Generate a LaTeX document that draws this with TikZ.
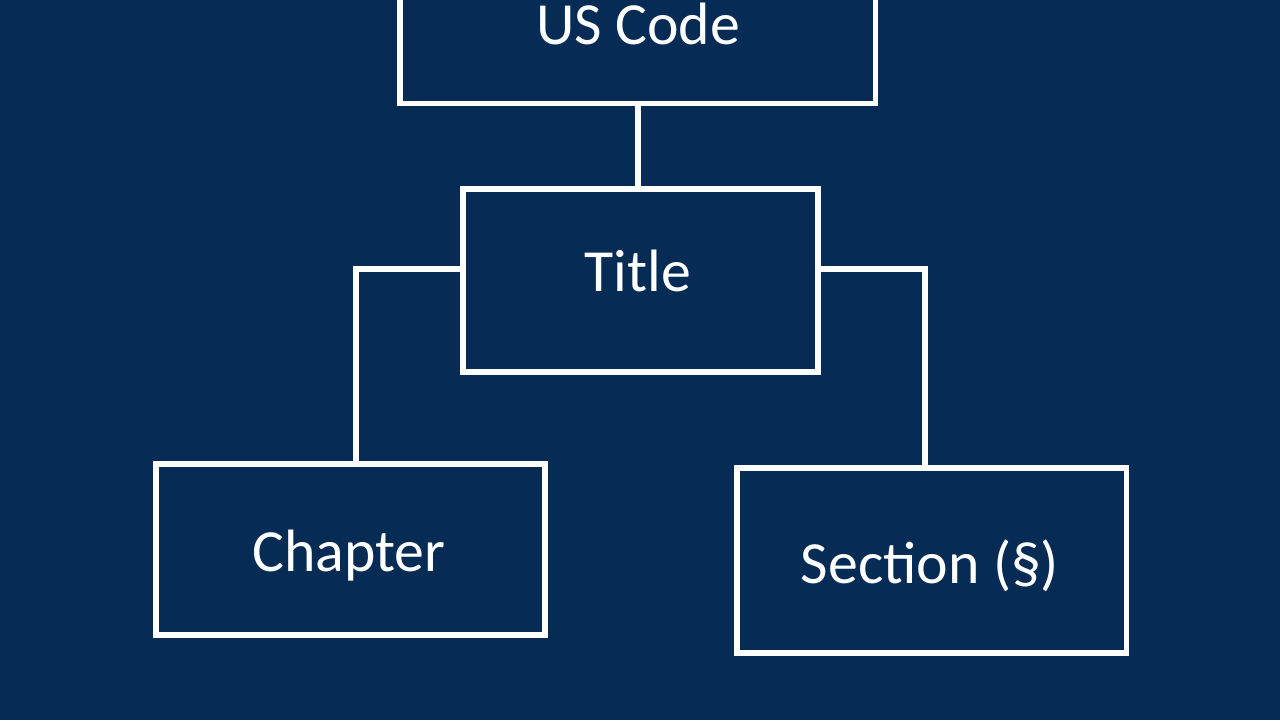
\documentclass[tikz,border=0pt]{standalone}
\usepackage{fontspec}
\setmainfont{Carlito}
\definecolor{bg}{HTML}{062C55}
\begin{document}
\begin{tikzpicture}[x=0.01cm,y=-0.01cm,
  box/.style={draw=white,line width=1.5pt,fill=bg,inner sep=0pt,anchor=center},
  txt/.style={text=white,font=\fontsize{17}{20}\selectfont,inner sep=0pt,anchor=center},
  conn/.style={draw=white,line width=1.5pt}]
\fill[bg] (0,0) rectangle (1280,720);
\useasboundingbox (0,0) rectangle (1280,720);
\clip (0,0) rectangle (1280,720);
\node[box,minimum width=4.75cm,minimum height=1.43cm] (us) at (637.5,32) {};
\node[box,minimum width=3.55cm,minimum height=1.83cm] (title) at (640.5,280.5) {};
\node[box,minimum width=3.89cm,minimum height=1.71cm] (ch) at (350.5,549.5) {};
\node[box,minimum width=3.89cm,minimum height=1.85cm] (sec) at (931.5,560.5) {};
\node[txt] (ust) at (638,24) {US Code};
\node[txt] (tt) at (638,271) {Title};
\node[txt] (cht) at (349,556) {Chapter};
\node[txt] (sect) at (930,566) {Section (§)};
\draw[conn] (us.south -| 638,0) -- (title.north -| 638,0);
\draw[conn] (title.west |- 0,269) -| (ch.north -| 356,0);
\draw[conn] (title.east |- 0,269) -| (sec.north -| 925,0);
\end{tikzpicture}
\end{document}
